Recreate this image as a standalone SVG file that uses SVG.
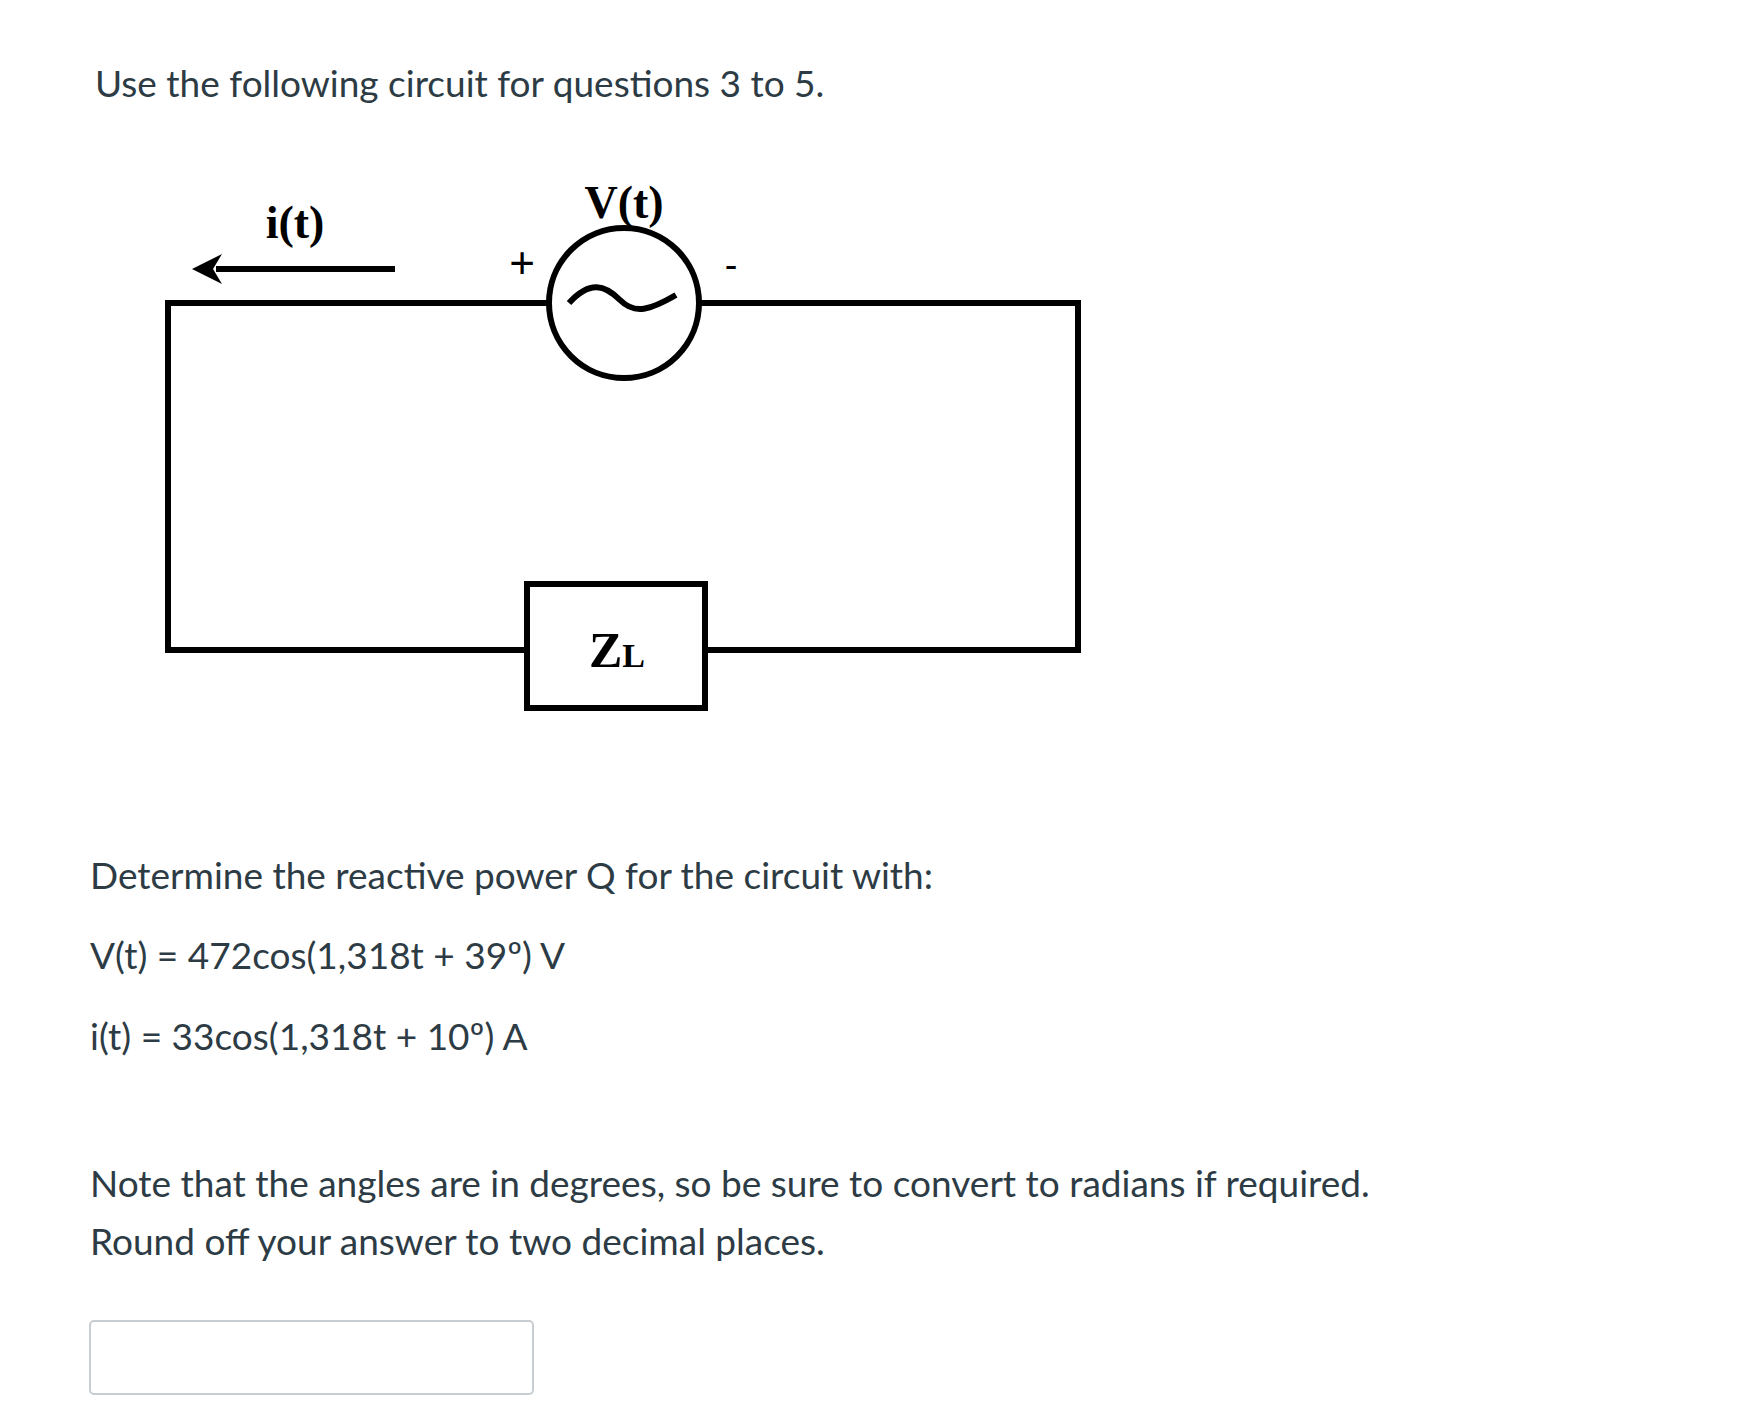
<svg xmlns="http://www.w3.org/2000/svg" width="1749" height="1428" viewBox="0 0 1749 1428">
<style>
.t{font-family:Lato,"Liberation Sans",sans-serif;font-size:37px;fill:#2d3b45}
.s{font-family:"Liberation Serif",serif;font-weight:bold;fill:#000}
.w{stroke:#000;stroke-width:6;fill:none}
</style>
<defs><marker id="ah" viewBox="0 0 10 10" refX="2" refY="5" markerWidth="5" markerHeight="5" orient="auto-start-reverse"><path d="M0,0 L10,5 L0,10 L3,5 Z" fill="#000"/></marker></defs>
<rect width="1749" height="1428" fill="#fff"/>
<text class="t" x="95" y="97">Use the following circuit for questions 3 to 5.</text>
<g id="wires">
<path class="w" d="M549,303 H168 V650 H527"/>
<path class="w" d="M699,303 H1078 V650 H705"/>
<path d="M395,269 H216" stroke="#000" stroke-width="6" marker-end="url(#ah)"/>
</g>
<g id="source">
<circle cx="624" cy="303" r="75" class="w"/>
<path class="w" d="M569,303 C590,280 605,285 620,300 C635,315 650,310 676,295"/>
<text class="s" x="624" y="218" font-size="46" text-anchor="middle">V(t)</text>
<text x="522" y="278" font-family="Liberation Sans,sans-serif" font-size="44" text-anchor="middle">+</text>
<text x="731" y="278" font-family="Liberation Sans,sans-serif" font-size="38" text-anchor="middle">-</text>
</g>
<g id="label_i"><text class="s" x="295" y="238" font-size="46" text-anchor="middle">i(t)</text></g>
<g id="load">
<rect x="527" y="584" width="178" height="124" class="w"/>
<text class="s" x="617" y="667" font-size="50" text-anchor="middle">Z<tspan font-size="34">L</tspan></text>
</g>
<text class="t" x="90" y="889">Determine the reactive power Q for the circuit with:</text>
<text class="t" x="90" y="969">V(t) = 472cos(1,318t + 39º) V</text>
<text class="t" x="90" y="1050">i(t) = 33cos(1,318t + 10º) A</text>
<text class="t" x="90" y="1197">Note that the angles are in degrees, so be sure to convert to radians if required.</text>
<text class="t" x="90" y="1255">Round off your answer to two decimal places.</text>
<rect x="90" y="1321" width="443" height="73" rx="4" fill="#fff" stroke="#c7cdd1" stroke-width="2"/>
</svg>
